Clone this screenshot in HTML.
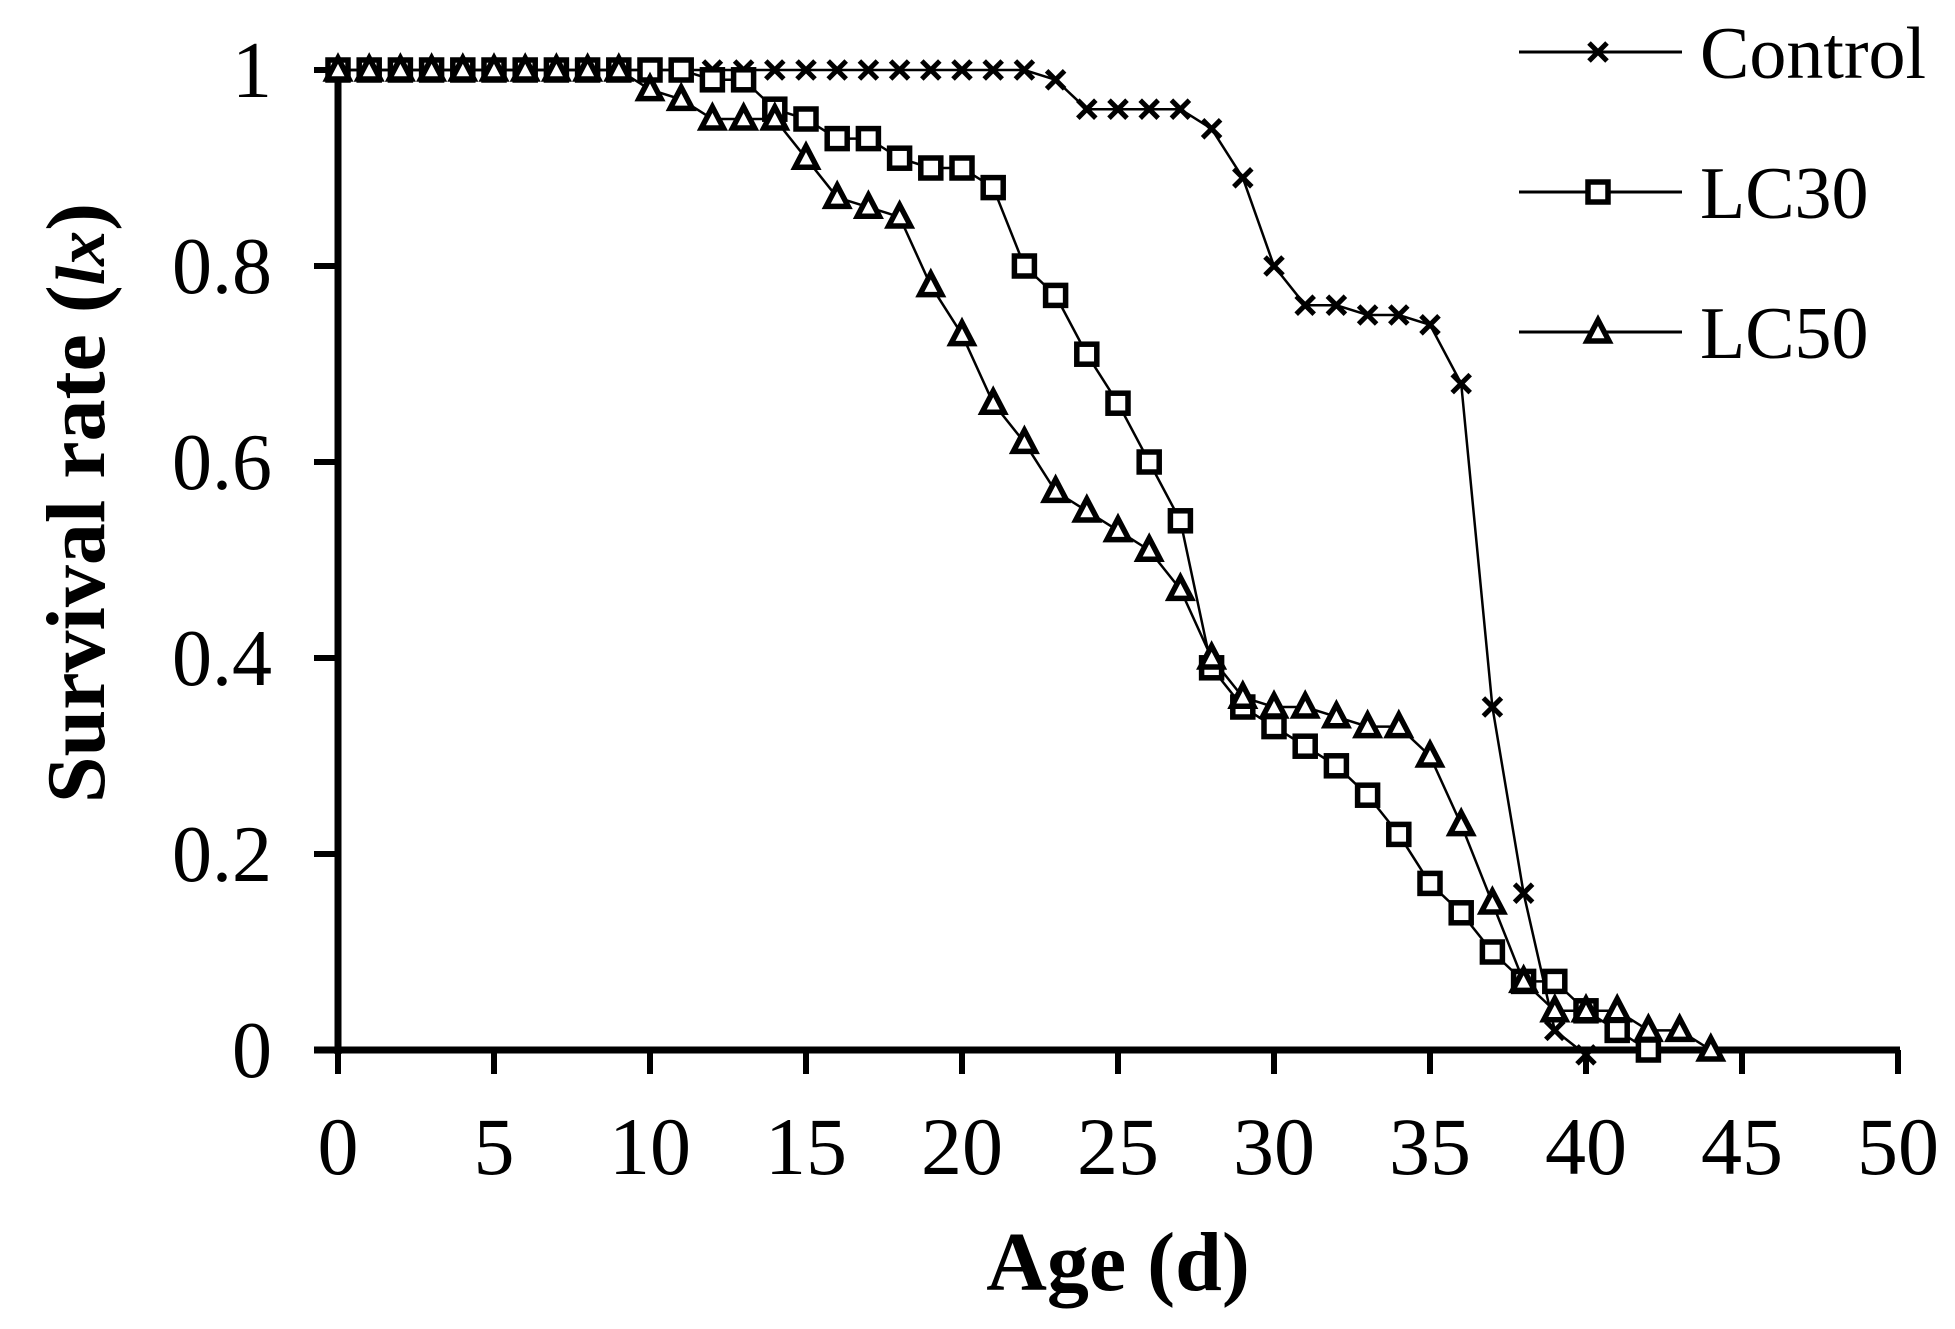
<!DOCTYPE html>
<html><head><meta charset="utf-8"><style>
html,body{margin:0;padding:0;background:#fff;}
svg{display:block;}
text{font-family:"Liberation Serif",serif;fill:#000;}
</style></head><body>
<svg id="c" width="1955" height="1329" viewBox="0 0 1955 1329" xmlns="http://www.w3.org/2000/svg">
<defs>
<g id="mx"><path d="M-9,-9L9,9M-9,9L9,-9" stroke="#000" stroke-width="5" fill="none"/></g>
<g id="ms"><rect x="-10" y="-10" width="20" height="20" fill="#fff" stroke="#000" stroke-width="5.5"/></g>
<g id="mt"><path d="M0,-12L11,9L-11,9Z" fill="#fff" stroke="#000" stroke-width="5.5" stroke-linejoin="miter"/></g>
</defs>
<line x1="338" y1="68" x2="338" y2="1054" stroke="#000" stroke-width="7"/>
<line x1="314" y1="1050" x2="1900" y2="1050" stroke="#000" stroke-width="7"/>
<g id="ticks" stroke="#000" stroke-width="6"></g>
<g id="labels" font-size="80"></g>
<g id="series"></g>
<text x="1118" y="1290" font-size="84" font-weight="bold" text-anchor="middle">Age (d)</text>
<text transform="translate(104,503) rotate(-90)" font-size="84" font-weight="bold" text-anchor="middle">Survival rate (<tspan font-style="italic" font-size="70">lx</tspan>)</text>
<line x1="1519" y1="52" x2="1682" y2="52" stroke="#000" stroke-width="3"/><use href="#mx" x="1598" y="52"/>
<text x="1700" y="78" font-size="74">Control</text>
<line x1="1519" y1="192" x2="1682" y2="192" stroke="#000" stroke-width="3"/><use href="#ms" x="1598" y="192"/>
<text x="1700" y="218" font-size="74">LC30</text>
<line x1="1519" y1="332" x2="1682" y2="332" stroke="#000" stroke-width="3"/><use href="#mt" x="1598" y="332"/>
<text x="1700" y="358" font-size="74">LC50</text>
</svg>
<script>
var NS="http://www.w3.org/2000/svg";
function X(d){return 338+31.2*d;}
function Y(v){return 1050-980*v;}
function el(t,a,p){var e=document.createElementNS(NS,t);for(var k in a)e.setAttribute(k,a[k]);p.appendChild(e);return e;}
var tk=document.getElementById('ticks'),lb=document.getElementById('labels');
for(var i=0;i<=10;i++){var x=X(i*5);el('line',{x1:x,y1:1050,x2:x,y2:1074},tk);
 var t=el('text',{x:x,y:1174,'text-anchor':'middle','font-size':82},lb);t.textContent=i*5;}
var yl=['0','0.2','0.4','0.6','0.8','1'];
for(var j=0;j<=5;j++){var y=Y(j*0.2);el('line',{x1:314,y1:y,x2:338,y2:y},tk);
 var t2=el('text',{x:272,y:y+27,'text-anchor':'end'},lb);t2.textContent=yl[j];}
function fill(arr,n){var a=[];for(var i=0;i<n;i++)a.push(1);return a.concat(arr);}
var ctrl=fill([0.99,0.96,0.96,0.96,0.96,0.94,0.89,0.80,0.76,0.76,0.75,0.75,0.74,0.68,0.35,0.16,0.02,-0.005],23);
var lc30=fill([0.99,0.99,0.96,0.95,0.93,0.93,0.91,0.90,0.90,0.88,0.80,0.77,0.71,0.66,0.60,0.54,0.39,0.35,0.33,0.31,0.29,0.26,0.22,0.17,0.14,0.10,0.07,0.07,0.04,0.02,0],12);
var lc50=fill([0.98,0.97,0.95,0.95,0.95,0.91,0.87,0.86,0.85,0.78,0.73,0.66,0.62,0.57,0.55,0.53,0.51,0.47,0.40,0.36,0.35,0.35,0.34,0.33,0.33,0.30,0.23,0.15,0.07,0.04,0.04,0.04,0.02,0.02,0],10);
var sg=document.getElementById('series');
function draw(d){var pts=d.map(function(v,i){return X(i)+','+Y(v);}).join(' ');
 el('polyline',{points:pts,fill:'none',stroke:'#000','stroke-width':2.5},sg);}
function marks(d,m){d.forEach(function(v,i){el('use',{href:'#'+m,x:X(i),y:Y(v)},sg);});}
draw(ctrl);draw(lc30);draw(lc50);
marks(ctrl,'mx');marks(lc30,'ms');marks(lc50,'mt');
</script>
</body></html>
